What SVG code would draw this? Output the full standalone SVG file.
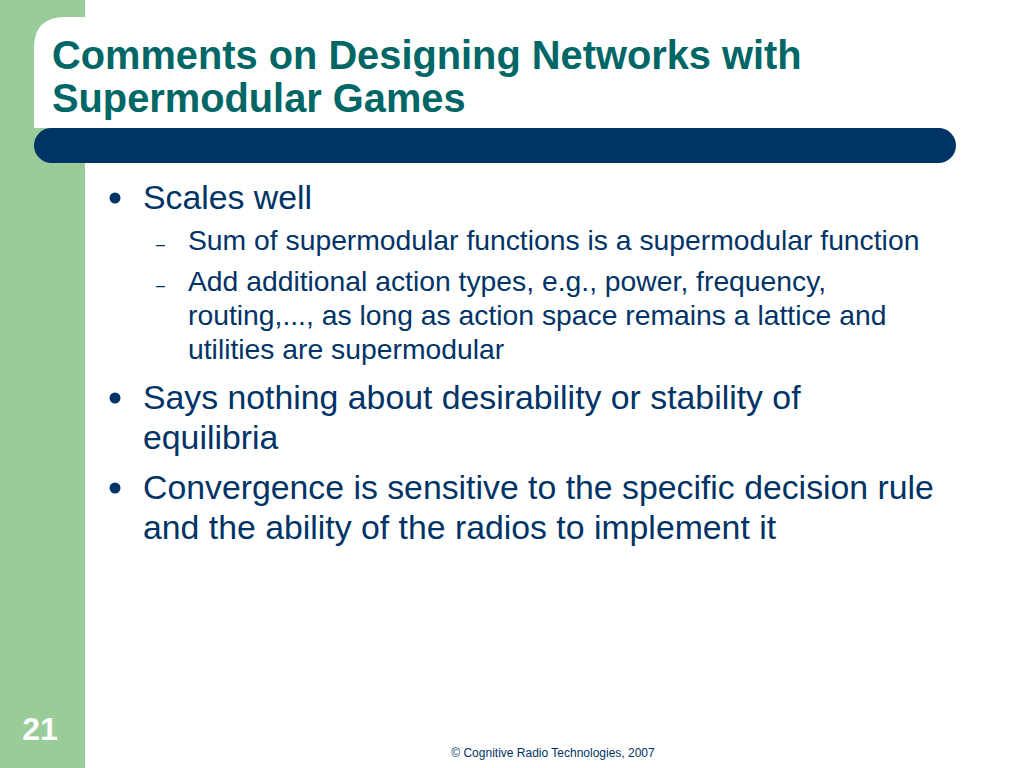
<svg xmlns="http://www.w3.org/2000/svg" width="1024" height="768" viewBox="0 0 1024 768">
<style>
.t{font-family:"Liberation Sans",Arial,sans-serif;font-weight:bold;fill:#006666;font-size:39.8px}
.b{font-family:"Liberation Sans",Arial,sans-serif;fill:#003366;font-size:33.8px}
.s{font-family:"Liberation Sans",Arial,sans-serif;fill:#003366;font-size:28.3px}
</style>
<rect width="1024" height="768" fill="#ffffff"/>
<rect x="0" y="0" width="85" height="768" fill="#99cc99"/>
<path d="M34,128 V48 Q34,17 65,17 H1024 V128 Z" fill="#ffffff"/>
<rect x="34" y="128" width="922" height="35" rx="17.5" fill="#003366"/>
<text class="t" x="52" y="69">Comments on Designing Networks with</text>
<text class="t" x="52" y="112">Supermodular Games</text>
<g class="b">
<circle cx="115" cy="198" r="5.5" fill="#003366"/>
<text x="143" y="209">Scales well</text>
<circle cx="115" cy="398" r="5.5" fill="#003366"/>
<text x="143" y="409">Says nothing about desirability or stability of</text>
<text x="143" y="449">equilibria</text>
<circle cx="115" cy="488" r="5.5" fill="#003366"/>
<text x="143" y="499">Convergence is sensitive to the specific decision rule</text>
<text x="143" y="539">and the ability of the radios to implement it</text>
</g>
<g class="s">
<text x="156" y="250" font-size="16">–</text>
<text x="188" y="250">Sum of supermodular functions is a supermodular function</text>
<text x="156" y="291" font-size="16">–</text>
<text x="188" y="291">Add additional action types, e.g., power, frequency,</text>
<text x="188" y="325">routing,..., as long as action space remains a lattice and</text>
<text x="188" y="359">utilities are supermodular</text>
</g>
<text x="40" y="740" text-anchor="middle" font-family="Liberation Sans,Arial,sans-serif" font-weight="bold" font-size="32" fill="#ffffff">21</text>
<text x="553" y="757" text-anchor="middle" font-family="Liberation Sans,Arial,sans-serif" font-size="12" fill="#003366">© Cognitive Radio Technologies, 2007</text>
</svg>
